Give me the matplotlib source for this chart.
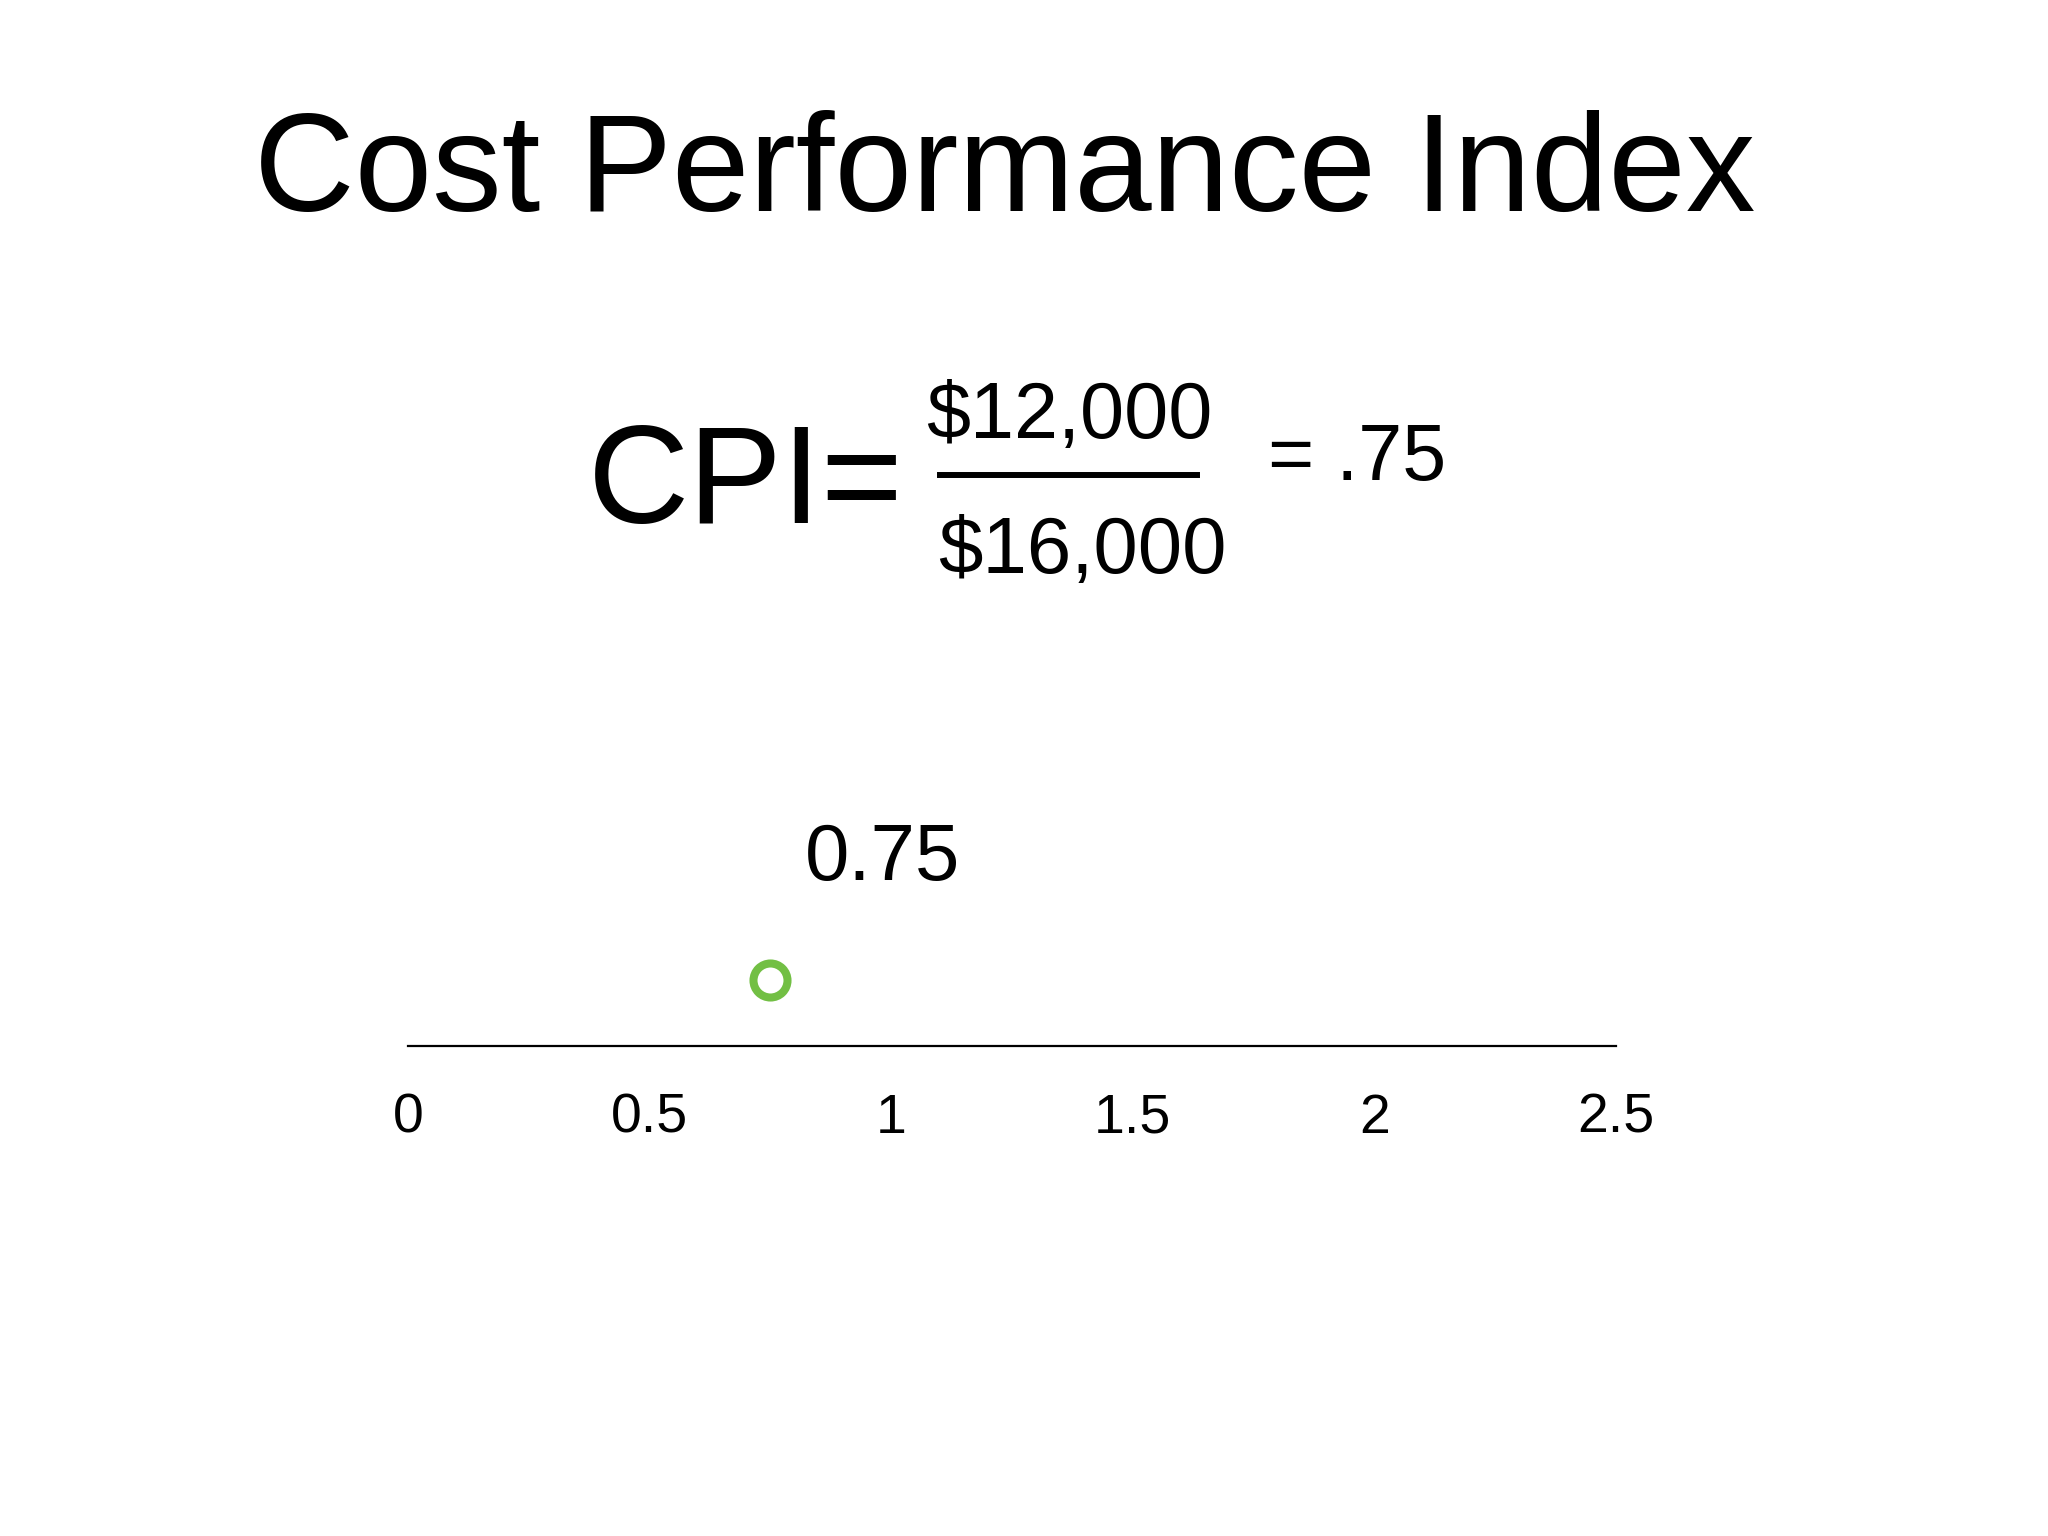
import matplotlib
matplotlib.use('Agg')
from matplotlib import pyplot as plt
from matplotlib.lines import Line2D

plt.rcParams['font.family'] = ['Liberation Sans', 'DejaVu Sans']

# data
earned_value = 12000
actual_cost = 16000
cpi_x = [0.75]
cpi_y = [1]
cpi_labels = ['0.75']
x_ticks = [0, 0.5, 1, 1.5, 2, 2.5]
x_tick_labels = ['0', '0.5', '1', '1.5', '2', '2.5']

W, H = 2048, 1536


def fx(x):
    return x / W


def fy(y):
    return 1 - y / H


fig = plt.figure(figsize=(W / 100, H / 100), dpi=100)
fig.patch.set_facecolor('white')

# title
fig.text(fx(1005), fy(211), 'Cost Performance Index', fontsize=100.3,
         ha='center', va='baseline', color='black')

# formula
fig.text(fx(588), fy(523), 'CPI=', fontsize=101, ha='left', va='baseline')
fig.text(fx(926), fy(438), '${:,}'.format(earned_value), fontsize=57,
         ha='left', va='baseline')
fig.text(fx(938), fy(573), '${:,}'.format(actual_cost), fontsize=57.5,
         ha='left', va='baseline')
fig.add_artist(Line2D([fx(940), fx(1197)], [fy(475), fy(475)],
                      color='black', lw=4.3, transform=fig.transFigure))
fig.text(fx(1268), fy(480), '= .{}'.format(int(round(earned_value / actual_cost * 100))),
         fontsize=57, ha='left', va='baseline')

# number line
ax = fig.add_axes([fx(408), fy(1046), (1616 - 408) / W, 132 / H])
ax.plot(cpi_x, cpi_y, linestyle='none', marker='o', markersize=24.5,
        markerfacecolor='white', markeredgecolor='#72BF44', markeredgewidth=5.8,
        clip_on=False)
for x, y, lab in zip(cpi_x, cpi_y, cpi_labels):
    ax.annotate(lab, (x, y), xytext=(81, 72), textcoords='offset points',
                ha='center', va='baseline', fontsize=57.5)

ax.set_xlim(0, 2.5)
ax.set_ylim(0, 2)
ax.set_xticks(x_ticks)
ax.set_xticklabels(x_tick_labels, fontsize=40)
for lab in ax.get_xticklabels():
    lab.set_verticalalignment('baseline')
ax.set_yticks([])
ax.tick_params(axis='x', length=0, pad=62.5)
for side in ['top', 'left', 'right']:
    ax.spines[side].set_visible(False)
ax.spines['bottom'].set_linewidth(1.6)
ax.spines['bottom'].set_color('black')
ax.patch.set_alpha(0)

fig.savefig('out.png', dpi=100, facecolor='white')
